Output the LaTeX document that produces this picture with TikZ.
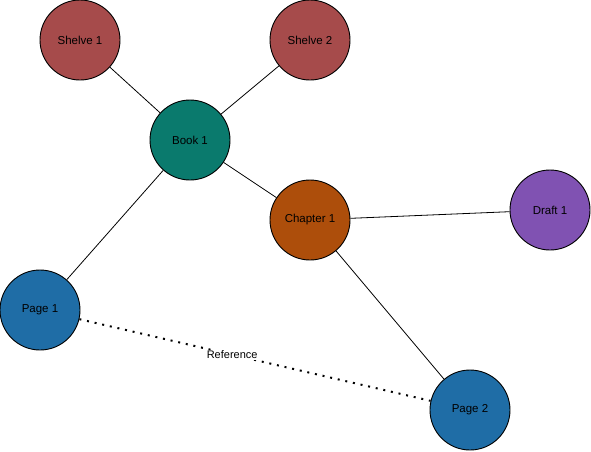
\documentclass[tikz,border=0pt]{standalone}
\usepackage{fontspec}
\setmainfont{Liberation Sans}
\definecolor{shelvered}{HTML}{A64B4B}
\definecolor{bookteal}{HTML}{0A7A6D}
\definecolor{chapterorange}{HTML}{AD4E0B}
\definecolor{draftpurple}{HTML}{8052B2}
\definecolor{pageblue}{HTML}{1F6DA6}
\begin{document}
\begin{tikzpicture}[x=1pt,y=-1pt,
    entity/.style={circle,draw=black,line width=0.9pt,minimum size=80pt,inner sep=0pt,font=\fontsize{11.5}{13}\selectfont},
    link/.style={line width=0.8pt},
    ref/.style={line width=2pt,dash pattern=on 2pt off 5.8pt}]
            \useasboundingbox (0,0) rectangle (591,451);
            \node[entity,fill=shelvered] (shelve1) at (80,40) {Shelve 1};
            \node[entity,fill=shelvered] (shelve2) at (310,40) {Shelve 2};
            \node[entity,fill=bookteal] (book1) at (190,140) {Book 1};
            \node[entity,fill=chapterorange] (chapter1) at (310,220) {Chapter 1};
            \node[entity,fill=draftpurple] (draft1) at (550,210) {Draft 1};
            \node[entity,fill=pageblue] (page1) at (40,310) {Page 1};
            \node[entity,fill=pageblue] (page2) at (470,410) {Page 2};
            % connections
            \draw[link] (shelve1) -- (book1);
            \draw[link] (shelve2) -- (book1);
            \draw[link] (book1) -- (chapter1);
            \draw[link] (book1) -- (page1);
            \draw[link] (chapter1) -- (draft1);
            \draw[link] (chapter1) -- (page2);
            \draw[ref] (page1) -- (page2) node[pos=0.435,fill=white,inner sep=1pt,font=\fontsize{11}{13}\selectfont]{Reference};
        \end{tikzpicture}
\end{document}
